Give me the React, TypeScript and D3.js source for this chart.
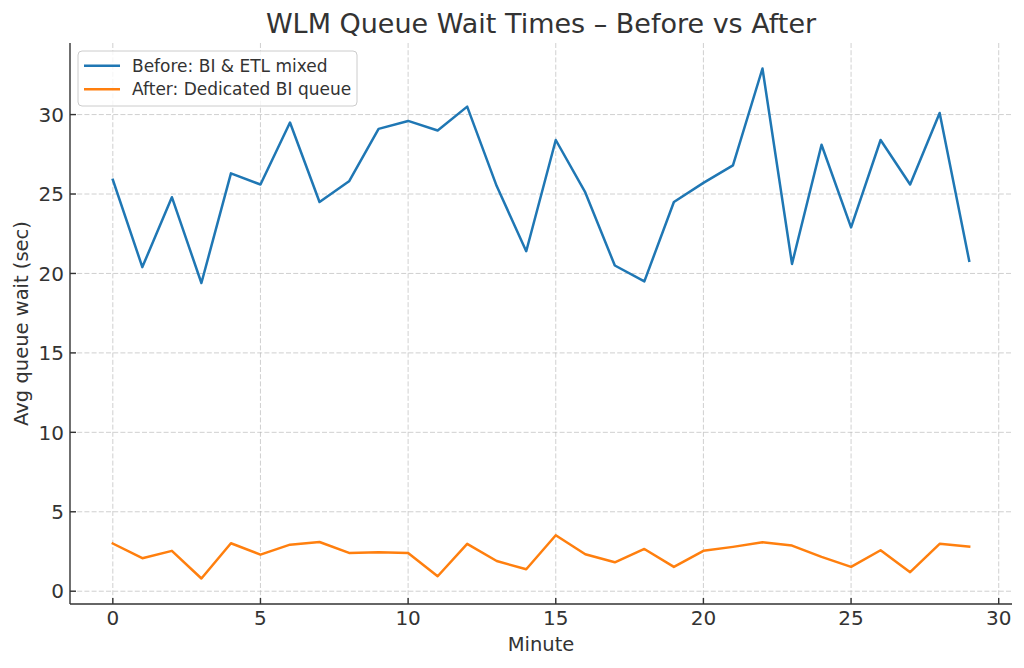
import React from "react";
import * as d3 from "d3";

const minutes: number[] = Array.from({ length: 30 }, (_, i) => i);
const beforeValues: number[] = [
  25.9, 20.4, 24.8, 19.4, 26.3, 25.6, 29.5, 24.5, 25.8, 29.1,
  29.6, 29.0, 30.5, 25.5, 21.4, 28.4, 25.1, 20.5, 19.5, 24.5,
  25.7, 26.8, 32.9, 20.6, 28.1, 22.9, 28.4, 25.6, 30.1, 20.8,
];
const afterValues: number[] = [
  3.0, 2.08, 2.54, 0.8, 3.02, 2.3, 2.93, 3.1, 2.41, 2.45,
  2.41, 0.94, 2.98, 1.9, 1.38, 3.52, 2.33, 1.82, 2.66, 1.53,
  2.54, 2.79, 3.08, 2.87, 2.16, 1.53, 2.58, 1.2, 2.98, 2.81,
];
const xTicks: number[] = [0, 5, 10, 15, 20, 25, 30];
const yTicks: number[] = [0, 5, 10, 15, 20, 25, 30];
const seriesNames: string[] = ["Before: BI & ETL mixed", "After: Dedicated BI queue"];
const seriesColors: string[] = ["#1f77b4", "#ff7f0e"];
const titleText = "WLM Queue Wait Times – Before vs After";
const xLabel = "Minute";
const yLabel = "Avg queue wait (sec)";

const W = 1024;
const H = 668;
const left = 70, right = 1012, top = 43, bottom = 604;
const FONT = "DejaVu Sans, sans-serif";
const TEXT = "#333333";

export default function App() {
  const xMin = d3.min(minutes)!, xMax = d3.max(minutes)!;
  const xm = (xMax - xMin) * 0.05;
  const all = [...beforeValues, ...afterValues];
  const yMin = d3.min(all)!, yMax = d3.max(all)!;
  const ym = (yMax - yMin) * 0.05;
  const x = d3.scaleLinear().domain([xMin - xm, xMax + xm]).range([left, right]);
  const y = d3.scaleLinear().domain([yMin - ym, yMax + ym]).range([bottom, top]);

  const line = d3
    .line<number>()
    .x((_, i) => x(minutes[i]))
    .y((d) => y(d));

  const series = [beforeValues, afterValues];
  const tickFont = 20;
  const labelFont = 19.5;

  return (
    <svg
      width={W}
      height={H}
      style={{ position: "absolute", left: 0, top: 0, background: "#fff" }}
      fontFamily={FONT}
    >
      <rect x={0} y={0} width={W} height={H} fill="#fff" />
      {/* grid */}
      {xTicks.map((t) => (
        <line
          key={"gx" + t}
          x1={x(t)}
          x2={x(t)}
          y1={top}
          y2={bottom}
          stroke="#b0b0b0"
          strokeOpacity={0.6}
          strokeWidth={1}
          strokeDasharray="5,2.2"
        />
      ))}
      {yTicks.map((t) => (
        <line
          key={"gy" + t}
          x1={left}
          x2={right}
          y1={y(t)}
          y2={y(t)}
          stroke="#b0b0b0"
          strokeOpacity={0.6}
          strokeWidth={1}
          strokeDasharray="5,2.2"
        />
      ))}
      {/* lines */}
      {series.map((s, i) => (
        <path
          key={"s" + i}
          d={line(s) || ""}
          fill="none"
          stroke={seriesColors[i]}
          strokeWidth={2.5}
          strokeLinejoin="round"
          strokeLinecap="square"
        />
      ))}
      {/* spines */}
      <line x1={left} x2={left} y1={top} y2={bottom} stroke={TEXT} strokeWidth={1.4} />
      <line x1={left} x2={right} y1={bottom} y2={bottom} stroke={TEXT} strokeWidth={1.4} />
      {/* x ticks */}
      {xTicks.map((t) => (
        <g key={"xt" + t}>
          <line x1={x(t)} x2={x(t)} y1={bottom} y2={bottom - 6} stroke={TEXT} strokeWidth={1.4} />
          <text
            x={x(t)}
            y={bottom + 6 + tickFont * 0.74}
            textAnchor="middle"
            fontSize={tickFont}
            fill={TEXT}
          >
            {t}
          </text>
        </g>
      ))}
      {/* y ticks */}
      {yTicks.map((t) => (
        <g key={"yt" + t}>
          <line x1={left} x2={left + 6} y1={y(t)} y2={y(t)} stroke={TEXT} strokeWidth={1.4} />
          <text
            x={left - 6}
            y={y(t)}
            dy="0.36em"
            textAnchor="end"
            fontSize={tickFont}
            fill={TEXT}
          >
            {t}
          </text>
        </g>
      ))}
      {/* axis labels */}
      <text x={(left + right) / 2} y={651} textAnchor="middle" fontSize={labelFont} fill={TEXT}>
        {xLabel}
      </text>
      <text
        transform={`translate(28, ${(top + bottom) / 2}) rotate(-90)`}
        textAnchor="middle"
        fontSize={labelFont}
        fill={TEXT}
      >
        {yLabel}
      </text>
      {/* title */}
      <text x={(left + right) / 2} y={33} textAnchor="middle" fontSize={27} fill={TEXT}>
        {titleText}
      </text>
      {/* legend */}
      <g>
        <rect
          x={78}
          y={51}
          width={279}
          height={55}
          rx={4}
          fill="#fff"
          fillOpacity={0.8}
          stroke="#cccccc"
          strokeWidth={1}
        />
        {seriesNames.map((n, i) => (
          <g key={"lg" + i} transform={`translate(0, ${65.7 + i * 23.5})`}>
            <line x1={84} x2={120} y1={0} y2={0} stroke={seriesColors[i]} strokeWidth={2.5} />
            <text x={132} y={0} dy="0.36em" fontSize={17} fill={TEXT}>
              {n}
            </text>
          </g>
        ))}
      </g>
    </svg>
  );
}
